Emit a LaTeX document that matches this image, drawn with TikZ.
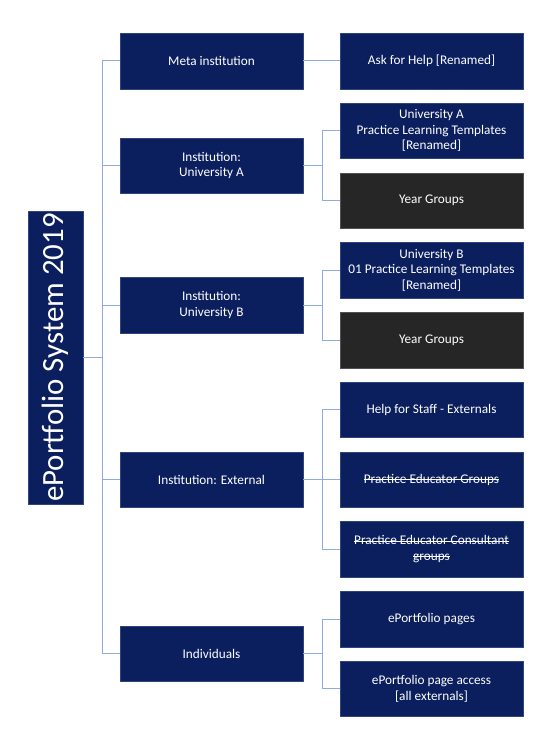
\documentclass[tikz,border=0pt]{standalone}
\usepackage{fontspec}
\setmainfont{Carlito}
\newsavebox\strkbox
\newcommand\strk[1]{\sbox\strkbox{#1}\rlap{\usebox\strkbox}\rule[0.27em]{\wd\strkbox}{0.7pt}}
\definecolor{navy}{HTML}{0B1F5E}
\definecolor{darkgray}{HTML}{262626}
\definecolor{boxedge}{HTML}{2E4582}
\definecolor{conncol}{HTML}{8FAADC}
\begin{document}
\begin{tikzpicture}[x=1bp,y=-1bp,
  box/.style={draw=boxedge, line width=0.5bp, fill=navy, text=white,
    minimum width=183bp, minimum height=55.5bp, inner sep=0pt, align=center,
    font=\fontsize{13.3}{15.5}\selectfont},
  graybox/.style={box, fill=darkgray, draw=darkgray!80!white},
  rootbox/.style={box, rotate=90, minimum width=293bp, minimum height=55bp,
    font=\fontsize{31}{36}\selectfont},
  conn/.style={draw=conncol, line width=1bp}]
\useasboundingbox (0,0) rectangle (558,750);
\fill[white] (0,0) rectangle (558,750);
% root
\node[rootbox] (root) at (55.5,357.5) {ePortfolio System 2019};
% level 1
\node[box] (meta) at (211.5,61) {Meta institution};
\node[box] (instA) at (211.5,165.6) {Institution:\\University A};
\node[box] (instB) at (211.5,305.1) {Institution:\\University B};
\node[box] (ext) at (211.5,479.5) {Institution: External};
\node[box] (ind) at (211.5,653.9) {Individuals};
% level 2
\node[box] (ask) at (431.5,61) {Ask for Help [Renamed]};
\node[box] (uA) at (431.5,130.75) {University A\\Practice Learning Templates\\{[Renamed]}};
\node[graybox] (yA) at (431.5,200.5) {Year Groups};
\node[box] (uB) at (431.5,270.25) {University B\\01 Practice Learning Templates\\{[Renamed]}};
\node[graybox] (yB) at (431.5,340) {Year Groups};
\node[box] (help) at (431.5,409.75) {Help for Staff - Externals};
\node[box] (peg) at (431.5,479.5) {\strk{Practice Educator Groups}};
\node[box] (pec) at (431.5,549.25) {\strk{Practice Educator Consultant}\\\strk{groups}};
\node[box] (pages) at (431.5,619) {ePortfolio pages};
\node[box] (acc) at (431.5,688.75) {ePortfolio page access\\{[all externals]}};
% connector coordinates
\coordinate (sp) at (102,357.5);
\coordinate (c2) at (322,357.5);
% spine
\draw[conn] (root.south) -- (root.south -| sp);
\draw[conn] (meta.west) -- (meta.west -| sp) |- (ind.west);
\draw[conn] (instA.west) -- (instA.west -| sp);
\draw[conn] (instB.west) -- (instB.west -| sp);
\draw[conn] (ext.west) -- (ext.west -| sp);
% level 2 connectors
\draw[conn] (meta.east) -- (ask.west);
\draw[conn] (instA.east) -- (instA.east -| c2);
\draw[conn] (uA.west) -- (uA.west -| c2) |- (yA.west);
\draw[conn] (instB.east) -- (instB.east -| c2);
\draw[conn] (uB.west) -- (uB.west -| c2) |- (yB.west);
\draw[conn] (ext.east) -- (peg.west);
\draw[conn] (help.west) -- (help.west -| c2) |- (pec.west);
\draw[conn] (ind.east) -- (ind.east -| c2);
\draw[conn] (pages.west) -- (pages.west -| c2) |- (acc.west);
\end{tikzpicture}
\end{document}
